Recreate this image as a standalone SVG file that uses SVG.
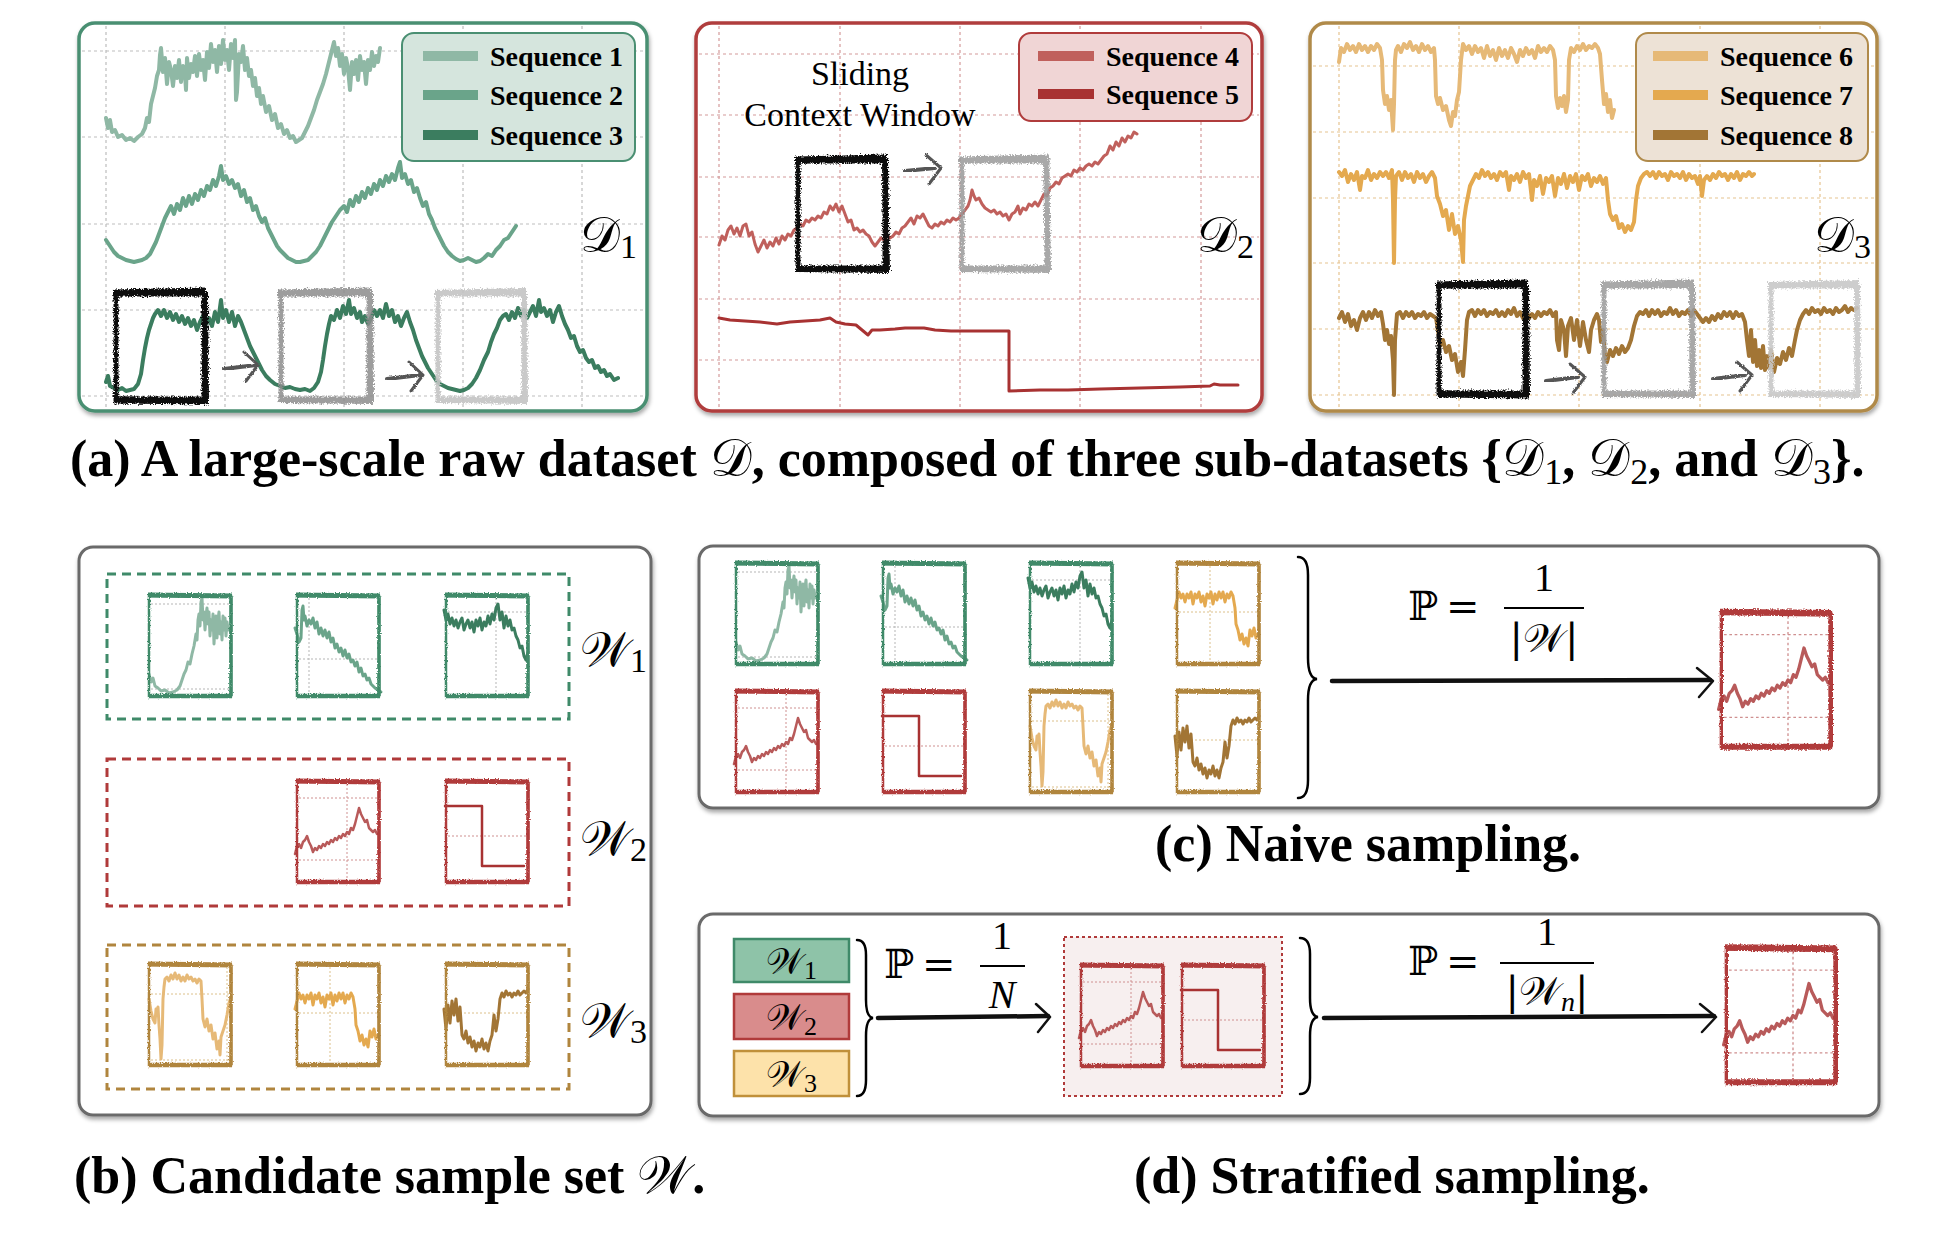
<svg xmlns="http://www.w3.org/2000/svg" width="1940" height="1244" viewBox="0 0 1940 1244">
<defs>
<style>
.cap{font-family:"Liberation Serif","Times New Roman",serif;font-weight:bold;font-size:52px;fill:#000}
.leg{font-family:"Liberation Serif","Times New Roman",serif;font-weight:bold;font-size:28px;fill:#000}
.m{font-family:"DejaVu Serif","DejaVu Sans","Noto Sans",serif;font-weight:normal;fill:#000}
.num{font-family:"Liberation Serif","Times New Roman",serif;font-weight:normal;fill:#000}
.ts{fill:none;stroke-linejoin:round;stroke-linecap:round}
.gd{fill:none;stroke:#bdbdbd;stroke-width:1.2;stroke-dasharray:3 3}
.gr{fill:none;stroke:#d49a9a;stroke-width:1.2;stroke-dasharray:3 3}
.go{fill:none;stroke:#e6c38f;stroke-width:1.2;stroke-dasharray:3 3}
.fgd{fill:none;stroke:#b5b5b5;stroke-width:1;stroke-dasharray:2 2}
.fgr{fill:none;stroke:#cf9090;stroke-width:1;stroke-dasharray:2 2}
.fgo{fill:none;stroke:#dcc08a;stroke-width:1;stroke-dasharray:2 2}
.fr{fill:none;filter:url(#rough)}
.win{fill:none;filter:url(#rough2)}
.panel{fill:#fff;stroke:#6a6a6a;stroke-width:3;filter:url(#shadow)}
.brace{fill:none;stroke:#000;stroke-width:2.5;stroke-linecap:round}
.arr{fill:none;stroke:#111;stroke-linecap:round;stroke-linejoin:round}
.sarr{fill:none;stroke:#555;stroke-linecap:round;stroke-linejoin:round;filter:url(#rough)}
</style>
<filter id="rough" x="-10%" y="-10%" width="120%" height="120%">
<feTurbulence type="fractalNoise" baseFrequency="0.9" numOctaves="1" seed="4" result="n"/>
<feDisplacementMap in="SourceGraphic" in2="n" scale="3" xChannelSelector="R" yChannelSelector="G"/>
</filter>
<filter id="rough2" x="-10%" y="-10%" width="120%" height="120%">
<feTurbulence type="fractalNoise" baseFrequency="0.7" numOctaves="2" seed="7" result="n"/>
<feDisplacementMap in="SourceGraphic" in2="n" scale="6" xChannelSelector="R" yChannelSelector="G"/>
</filter>
<filter id="shadow" x="-5%" y="-5%" width="110%" height="115%">
<feDropShadow dx="1" dy="3" stdDeviation="2" flood-color="#000" flood-opacity="0.35"/>
</filter>

<symbol id="fA" viewBox="0 0 90 112" overflow="visible">
<path class="fgd" d="M6,14 H84 M6,99 H84"/>
<polyline class="ts" stroke="#8fb8a5" stroke-width="3" points="4,84 6,92 8,88 10,96 13,98 16,101 20,100 24,103 28,102 32,100 35,96 37,90 39,84 41,80 43,72 45,74 47,64 49,56 51,44 52,50 53,30 54,24 55,36 56,12 57,8 58,30 59,22 60,40 61,26 62,18 63,34 64,22 65,46 66,30 67,40 68,24 69,54 70,36 71,26 72,48 73,30 74,22 75,44 76,32 77,50 78,26 79,40 80,28 81,46 82,32 83,40 84,36 86,44"/>
<g class="fr" stroke="#3f8a69"><rect x="4" y="6" width="82" height="100" stroke-width="2.5"/><path d="M3,5 L87,6" stroke-width="5"/><path d="M3,106 L87,106" stroke-width="4.5"/><path d="M86,6 L86,106" stroke-width="3.5"/></g>
</symbol>
<symbol id="fB" viewBox="0 0 90 112" overflow="visible">
<path class="fgd" d="M16,8 V104 M6,69 H84"/>
<polyline class="ts" stroke="#6aa48a" stroke-width="3" points="2,38 4,44 6,52 8,48 9,20 10,16 11,30 12,26 14,36 16,30 18,34 20,28 22,38 24,32 26,44 28,38 30,46 32,40 34,48 36,42 38,52 40,48 42,58 44,54 46,62 48,58 50,66 52,60 54,68 56,64 58,72 60,70 62,76 64,72 66,82 68,78 70,86 72,84 74,90 76,88 78,94 80,96 82,98 85,100 88,102"/>
<g class="fr" stroke="#3f8a69"><rect x="4" y="6" width="82" height="100" stroke-width="2.5"/><path d="M3,5 L87,6" stroke-width="5"/><path d="M3,106 L87,106" stroke-width="4.5"/><path d="M86,6 L86,106" stroke-width="3.5"/></g>
</symbol>
<symbol id="fC" viewBox="0 0 90 112" overflow="visible">
<path class="fgd" d="M54,8 V104 M6,22 H84"/>
<polyline class="ts" stroke="#3b7d5f" stroke-width="3" points="2,20 4,30 6,24 8,34 10,28 12,36 14,30 16,38 18,32 20,28 22,40 24,34 26,30 28,38 30,32 32,42 34,30 36,36 38,28 40,40 42,32 44,36 46,26 48,34 50,24 52,30 54,18 56,14 58,30 60,22 62,38 64,26 66,36 68,30 70,40 72,38 74,46 76,50 78,58 80,56 82,66 84,70 86,62"/>
<g class="fr" stroke="#3f8a69"><rect x="4" y="6" width="82" height="100" stroke-width="2.5"/><path d="M3,5 L87,6" stroke-width="5"/><path d="M3,106 L87,106" stroke-width="4.5"/><path d="M86,6 L86,106" stroke-width="3.5"/></g>
</symbol>
<symbol id="fD" viewBox="0 0 90 112" overflow="visible">
<path class="fgo" d="M6,35 H84 M6,101 H84 M82,8 V104"/>
<polyline class="ts" stroke="#e6b977" stroke-width="3" points="4,40 6,52 8,60 10,64 11,50 12,56 13,48 14,66 15,80 16,100 17,86 18,40 19,28 20,20 22,18 24,22 26,16 28,20 30,14 32,20 34,16 36,22 38,18 40,22 42,16 44,20 46,18 48,22 50,20 52,24 54,20 56,22 57,40 58,60 60,68 62,60 64,72 66,66 68,80 70,74 72,90 74,82 75,96 76,78 78,72 80,66 82,56 84,44 86,38"/>
<g class="fr" stroke="#b0853e"><rect x="4" y="6" width="82" height="100" stroke-width="2.5"/><path d="M3,5 L87,6" stroke-width="5"/><path d="M3,106 L87,106" stroke-width="4.5"/><path d="M86,6 L86,106" stroke-width="3.5"/></g>
</symbol>
<symbol id="fE" viewBox="0 0 90 112" overflow="visible">
<path class="fgo" d="M37,8 V104 M6,54 H84"/>
<polyline class="ts" stroke="#e4a94f" stroke-width="3" points="2,50 4,42 6,34 8,40 10,36 12,44 14,36 16,40 18,34 20,46 22,36 24,40 26,34 28,44 30,38 32,48 34,36 36,40 38,34 40,46 42,36 44,42 46,34 48,40 50,34 52,44 54,36 56,40 58,34 60,38 62,50 63,66 65,72 67,82 69,76 71,86 73,80 75,88 77,72 79,78 81,70 83,80 85,76"/>
<g class="fr" stroke="#b0853e"><rect x="4" y="6" width="82" height="100" stroke-width="2.5"/><path d="M3,5 L87,6" stroke-width="5"/><path d="M3,106 L87,106" stroke-width="4.5"/><path d="M86,6 L86,106" stroke-width="3.5"/></g>
</symbol>
<symbol id="fF" viewBox="0 0 90 112" overflow="visible">
<path class="fgo" d="M6,54 H84"/>
<polyline class="ts" stroke="#a27535" stroke-width="3" points="2,50 4,70 6,46 8,64 10,42 12,56 14,40 16,62 18,48 20,76 22,80 24,72 26,84 28,78 30,88 32,82 34,92 36,84 38,88 40,80 42,90 44,84 46,92 48,82 50,76 52,56 54,72 56,60 58,40 60,34 62,38 64,32 66,36 68,34 70,38 72,34 74,36 76,32 78,36 80,34 82,32 84,34 86,30"/>
<g class="fr" stroke="#b0853e"><rect x="4" y="6" width="82" height="100" stroke-width="2.5"/><path d="M3,5 L87,6" stroke-width="5"/><path d="M3,106 L87,106" stroke-width="4.5"/><path d="M86,6 L86,106" stroke-width="3.5"/></g>
</symbol>
<symbol id="fG" viewBox="0 0 90 112" overflow="visible">
<path class="fgr" d="M6,22 H84 M6,84 H84 M54,8 V104"/>
<polyline class="ts" stroke="#b85a5a" stroke-width="2.5" points="2,78 4,70 6,68 8,72 10,66 12,64 14,60 16,66 18,70 20,76 22,72 24,74 26,70 28,72 30,68 32,70 34,66 36,68 38,64 40,66 42,62 44,64 46,60 48,62 50,58 52,60 54,56 56,58 58,52 60,54 62,48 64,40 66,32 68,38 70,42 72,46 74,44 76,52 78,54 80,56 82,54 84,58"/>
<g class="fr" stroke="#b03a3a"><rect x="4" y="6" width="82" height="100" stroke-width="2.5"/><path d="M3,5 L87,6" stroke-width="5"/><path d="M3,106 L87,106" stroke-width="4.5"/><path d="M86,6 L86,106" stroke-width="3.5"/></g>
</symbol>
<symbol id="fH" viewBox="0 0 90 112" overflow="visible">
<path class="fgr" d="M6,60 H84"/>
<polyline class="ts" stroke="#a83232" stroke-width="2.5" points="3,30 40,30 40,90 82,90"/>
<g class="fr" stroke="#b03a3a"><rect x="4" y="6" width="82" height="100" stroke-width="2.5"/><path d="M3,5 L87,6" stroke-width="5"/><path d="M3,106 L87,106" stroke-width="4.5"/><path d="M86,6 L86,106" stroke-width="3.5"/></g>
</symbol>
</defs>

<rect width="1940" height="1244" fill="#fff"/>

<!-- Panel (a) D1 -->
<g id="D1">
<rect x="79" y="23" width="568" height="388" rx="16" fill="#fff" stroke="#4a8f72" stroke-width="3.5" filter="url(#shadow)"/>
<path class="gd" d="M106,26 V408 M225,26 V408 M344,26 V408 M463,26 V408 M582,26 V408 M82,51 H644 M82,137 H644 M82,224 H644 M82,310 H644 M82,396 H644"/>
<polyline class="ts" stroke="#8fb8a5" stroke-width="4" points="106,118 108,128 110,120 112,132 115,130 118,137 122,135 126,140 130,138 134,141 138,137 142,134 145,128 147,118 149,122 151,104 153,96 155,88 157,76 159,70 160,55 161,48 163,72 165,58 167,84 169,62 171,70 173,86 175,66 177,78 179,60 181,82 183,66 185,74 186,90 187,58 189,78 191,64 193,72 195,56 197,76 199,54 201,70 203,60 205,80 207,52 209,68 211,44 213,62 215,50 217,72 219,46 221,64 223,40 225,60 227,50 229,70 231,44 233,58 235,40 236,100 237,92 239,54 241,62 243,46 245,70 247,58 249,76 251,70 253,86 255,78 257,96 259,88 261,104 263,96 266,112 269,106 272,120 275,114 278,128 281,124 284,134 287,130 290,138 293,136 296,142 299,140 302,138 305,132 308,126 311,118 314,110 317,100 320,92 323,84 326,74 329,62 332,50 334,42 336,56 338,48 340,66 342,54 344,74 346,58 348,68 350,90 352,62 354,74 356,60 358,80 360,56 362,70 364,62 366,84 368,60 370,70 372,52 374,66 376,56 378,62 380,48"/>
<polyline class="ts" stroke="#6aa48a" stroke-width="4" points="106,240 110,246 114,252 118,256 122,258 126,260 130,261 134,262 138,261 142,260 146,258 150,254 153,248 156,242 159,234 162,226 165,218 168,212 171,206 174,214 177,204 180,210 183,198 186,206 189,196 192,204 195,194 198,200 201,190 204,196 207,186 210,190 213,180 216,186 219,176 221,166 223,180 226,176 229,184 232,180 235,188 238,184 241,196 244,190 247,202 250,198 253,210 256,206 259,216 262,222 265,218 268,228 271,234 274,240 277,246 280,250 284,254 288,258 292,260 296,262 300,262 304,261 308,260 312,256 316,252 320,246 324,238 328,230 332,222 336,216 340,210 344,206 347,212 350,200 353,206 356,196 359,202 362,192 365,198 368,188 371,194 374,184 377,190 380,180 383,186 386,176 389,182 392,174 395,180 398,168 400,162 402,178 405,174 408,184 411,180 414,192 417,188 420,198 423,206 426,202 429,214 432,220 435,228 438,234 441,240 444,246 448,252 452,256 456,259 460,261 464,260 468,258 472,260 476,262 480,261 484,258 488,254 492,256 496,250 500,246 504,240 508,238 512,232 516,226"/>
<polyline class="ts" stroke="#3b7d5f" stroke-width="4" points="106,382 108,376 110,386 114,388 118,390 122,388 126,391 130,390 134,389 138,384 141,374 143,360 145,348 147,338 149,330 151,324 153,318 155,314 158,310 161,316 164,310 167,318 170,312 173,320 176,314 179,322 182,316 185,324 188,318 191,326 194,320 197,330 200,322 203,316 206,324 209,318 212,326 215,312 218,322 221,300 223,318 226,310 229,322 232,312 235,326 238,316 241,322 244,330 247,338 250,346 254,354 258,362 262,370 266,376 270,380 275,384 280,386 285,388 290,387 295,389 300,390 305,389 310,391 314,388 318,382 321,372 323,360 325,346 327,334 329,324 331,316 334,320 337,310 340,318 343,306 346,314 349,300 351,314 354,308 357,318 360,312 362,322 365,316 368,324 371,318 374,310 377,316 380,310 383,318 386,304 389,316 392,310 395,322 398,316 401,326 404,318 407,312 410,322 413,330 416,340 419,348 422,356 425,362 428,368 432,374 436,380 440,384 444,386 448,388 452,389 456,390 460,391 464,390 468,388 472,384 476,378 480,370 484,360 488,352 491,342 494,334 497,328 500,320 503,316 506,314 509,320 512,312 515,318 518,308 521,316 524,310 527,318 530,312 533,306 536,316 539,300 541,312 544,308 547,316 550,310 553,322 556,312 559,306 562,316 565,324 568,330 571,338 574,336 577,346 580,352 583,350 586,358 589,362 592,360 595,368 598,366 601,372 604,370 607,376 610,374 614,380 618,378"/>
<g class="win" stroke="#111"><rect x="116" y="294" width="88" height="105" stroke-width="5"/><path d="M113,293 L206,291" stroke-width="7"/><path d="M114,400 L208,401" stroke-width="7"/><path d="M205,292 L206,402" stroke-width="6"/></g>
<g class="win" stroke="#8c8c8c" opacity="0.85"><rect x="281" y="294" width="88" height="105" stroke-width="5"/><path d="M278,293 L371,291" stroke-width="7"/><path d="M279,400 L373,401" stroke-width="6"/><path d="M370,292 L371,402" stroke-width="6"/></g>
<g class="win" stroke="#c4c4c4" opacity="0.9"><rect x="438" y="294" width="86" height="105" stroke-width="5"/><path d="M435,293 L526,291" stroke-width="6"/><path d="M436,400 L527,401" stroke-width="6"/><path d="M524,292 L525,402" stroke-width="6"/></g>
</g>
<g id="D1-arrows">
<path class="sarr" d="M224,369 L256,365" stroke-width="4"/><path class="sarr" d="M244,352 L258,365 L246,381" stroke-width="3"/>
<path class="sarr" d="M387,379 L420,375" stroke-width="4"/><path class="sarr" d="M409,362 L423,375 L411,391" stroke-width="3"/>
</g>
<g id="D1-legend">
<rect x="402" y="33" width="233" height="128" rx="12" fill="#d5e5dd" stroke="#4a8f72" stroke-width="2"/>
<path d="M423,56 H478" stroke="#8fb8a5" stroke-width="10"/>
<path d="M423,95 H478" stroke="#6aa48a" stroke-width="10"/>
<path d="M423,135 H478" stroke="#3b7d5f" stroke-width="10"/>
<text class="leg" x="490" y="66">Sequence 1</text>
<text class="leg" x="490" y="105">Sequence 2</text>
<text class="leg" x="490" y="145">Sequence 3</text>
<text class="m" x="580" y="252" font-size="50">𝒟<tspan class="num" font-size="34" dy="6">1</tspan></text>
</g>

<!-- Panel (a) D2 -->
<g id="D2">
<rect x="696" y="23" width="566" height="388" rx="16" fill="#fff" stroke="#b03c3c" stroke-width="3.5" filter="url(#shadow)"/>
<path class="gr" d="M719,26 V408 M840,26 V408 M960,26 V408 M1080,26 V408 M1201,26 V408 M699,54 H1259 M699,115 H1259 M699,177 H1259 M699,237 H1259 M699,299 H1259 M699,360 H1259"/>
<polyline class="ts" stroke="#c0605c" stroke-width="3" points="719,245 722,236 725,240 728,230 731,226 734,234 737,228 740,236 743,226 746,224 749,236 752,232 755,244 758,252 761,246 764,240 767,248 770,242 773,246 776,238 779,244 782,236 785,240 788,234 791,236 794,230 797,228 800,224 803,226 806,220 809,222 812,218 815,220 818,216 821,218 824,212 827,214 830,206 833,210 836,204 839,212 842,206 845,214 848,222 851,220 854,230 857,228 860,232 863,230 866,234 869,236 872,242 875,246 878,242 881,238 884,240 887,236 890,238 893,236 896,232 899,234 902,228 905,226 908,222 911,218 914,224 917,216 920,218 923,214 926,220 929,226 932,228 935,224 938,226 941,222 944,224 947,220 950,222 953,218 956,220 959,218 962,214 965,210 968,206 970,200 972,190 974,196 976,200 979,198 982,204 985,208 988,210 991,212 994,210 997,214 1000,212 1003,216 1006,214 1009,220 1012,214 1015,212 1018,206 1020,214 1023,208 1026,210 1029,204 1032,206 1035,202 1038,206 1041,200 1044,194 1047,196 1050,188 1053,186 1056,182 1059,184 1062,178 1065,176 1068,174 1071,176 1074,170 1077,172 1080,168 1083,170 1086,166 1089,164 1092,166 1095,162 1098,164 1101,160 1104,156 1107,154 1110,146 1113,150 1116,142 1119,146 1122,138 1125,142 1128,136 1131,138 1134,132 1137,134"/>
<polyline class="ts" stroke="#a83232" stroke-width="3" points="719,318 730,320 745,321 760,322 777,324 790,322 805,321 820,320 830,318 836,322 845,324 856,325 862,330 868,335 872,330 880,330 895,329 905,328 924,328 935,330 951,331 980,331 1009,331 1009,391 1040,390 1068,390 1100,389 1140,388 1180,387 1210,386 1214,384 1220,385 1238,385"/>
<g class="win" stroke="#111"><rect x="798" y="161" width="87" height="107" stroke-width="5"/><path d="M795,160 L887,158" stroke-width="7"/><path d="M796,269 L889,270" stroke-width="6"/><path d="M885,160 L887,271" stroke-width="6"/></g>
<g class="win" stroke="#9a9a9a" opacity="0.85"><rect x="962" y="161" width="85" height="107" stroke-width="5"/><path d="M959,160 L1049,158" stroke-width="7"/><path d="M960,269 L1050,270" stroke-width="6"/><path d="M1046,160 L1048,271" stroke-width="6"/></g>
</g>
<g id="D2-arrow">
<path class="sarr" d="M905,171 L935,168" stroke-width="4"/><path class="sarr" d="M926,155 L941,168 L929,184" stroke-width="3"/>
</g>
<g id="D2-legend">
<rect x="1019" y="33" width="233" height="88" rx="12" fill="#f0d5d5" stroke="#b03c3c" stroke-width="2"/>
<path d="M1038,56 H1094" stroke="#c0605c" stroke-width="10"/>
<path d="M1038,94 H1094" stroke="#a83232" stroke-width="10"/>
<text class="leg" x="1106" y="66">Sequence 4</text>
<text class="leg" x="1106" y="104">Sequence 5</text>
<text x="860" y="85" text-anchor="middle" font-family="Liberation Serif, serif" font-size="34">Sliding</text>
<text x="860" y="126" text-anchor="middle" font-family="Liberation Serif, serif" font-size="34">Context Window</text>
<text class="m" x="1197" y="252" font-size="50">𝒟<tspan class="num" font-size="34" dy="6">2</tspan></text>
</g>

<!-- Panel (a) D3 -->
<g id="D3">
<rect x="1310" y="23" width="567" height="388" rx="16" fill="#fff" stroke="#b08a4a" stroke-width="3.5" filter="url(#shadow)"/>
<path class="go" d="M1339,26 V408 M1459,26 V408 M1579,26 V408 M1700,26 V408 M1820,26 V408 M1313,66 H1874 M1313,132 H1874 M1313,198 H1874 M1313,263 H1874 M1313,329 H1874 M1313,395 H1874"/>
<polyline class="ts" stroke="#e6b977" stroke-width="4" points="1339,62 1341,48 1344,52 1347,44 1350,50 1353,46 1356,52 1359,44 1362,50 1365,46 1368,52 1371,46 1374,50 1377,44 1380,48 1382,60 1383,90 1385,104 1387,96 1389,110 1391,100 1393,130 1394,104 1395,60 1396,50 1398,46 1401,52 1404,44 1407,48 1410,42 1413,50 1416,46 1419,52 1422,44 1425,50 1428,46 1431,52 1434,48 1435,60 1436,96 1438,104 1440,98 1443,110 1446,106 1449,120 1451,126 1453,112 1455,116 1457,100 1459,92 1461,60 1463,44 1466,50 1469,46 1472,54 1475,46 1478,52 1481,48 1484,58 1487,46 1490,56 1493,50 1496,60 1499,48 1502,56 1505,50 1508,58 1511,48 1514,54 1517,62 1520,50 1523,56 1526,48 1529,54 1532,50 1535,58 1538,46 1541,52 1544,48 1547,52 1550,46 1553,50 1555,60 1556,96 1558,108 1560,98 1562,106 1564,96 1566,112 1568,100 1569,60 1571,48 1574,52 1577,46 1580,50 1583,44 1586,50 1589,46 1592,48 1595,44 1598,48 1600,54 1602,80 1604,104 1606,94 1608,112 1610,100 1612,118 1614,110"/>
<polyline class="ts" stroke="#e4a94f" stroke-width="4" points="1339,172 1342,176 1345,170 1348,182 1351,174 1354,180 1357,172 1360,190 1362,176 1365,178 1368,170 1371,180 1374,174 1377,178 1380,172 1383,176 1386,172 1389,178 1392,170 1393,200 1394,263 1395,200 1396,176 1399,172 1402,180 1405,172 1408,178 1411,174 1414,182 1417,172 1420,178 1423,174 1426,182 1429,176 1432,172 1435,178 1437,196 1440,204 1443,216 1446,210 1449,230 1452,214 1455,234 1458,226 1461,240 1463,262 1464,220 1466,206 1468,196 1470,186 1473,180 1476,174 1479,178 1482,170 1485,176 1488,172 1491,178 1494,174 1497,180 1500,172 1503,176 1506,172 1509,190 1511,176 1514,180 1517,174 1520,182 1523,172 1526,178 1529,174 1532,200 1534,180 1537,186 1540,176 1543,194 1546,178 1549,182 1552,176 1555,196 1558,178 1561,184 1564,174 1567,188 1570,176 1573,182 1576,174 1579,190 1582,176 1585,180 1588,174 1591,186 1594,178 1597,182 1600,176 1603,184 1606,178 1608,200 1610,214 1613,220 1616,216 1619,228 1622,224 1625,232 1628,226 1631,230 1634,222 1636,200 1638,186 1641,178 1644,174 1647,172 1650,176 1653,172 1656,178 1659,172 1662,176 1665,174 1668,180 1671,172 1674,176 1677,174 1680,178 1683,172 1686,180 1689,174 1692,178 1695,176 1698,184 1700,176 1702,196 1704,180 1707,176 1710,180 1713,174 1716,178 1719,172 1722,176 1725,174 1728,180 1731,174 1734,178 1737,172 1740,180 1743,174 1746,176 1749,172 1752,176 1754,174"/>
<polyline class="ts" stroke="#a27535" stroke-width="4" points="1339,318 1342,312 1345,322 1348,314 1351,326 1354,320 1357,330 1360,318 1363,312 1366,320 1369,312 1372,318 1375,310 1378,316 1381,312 1383,324 1385,340 1387,330 1389,344 1391,336 1393,360 1394,395 1395,340 1397,314 1400,312 1403,318 1406,312 1409,316 1412,312 1415,318 1418,314 1421,316 1424,312 1427,318 1430,314 1433,316 1436,318 1438,330 1440,346 1443,340 1446,352 1449,346 1452,360 1455,354 1458,372 1461,362 1463,376 1465,350 1467,320 1469,312 1472,310 1475,316 1478,310 1481,314 1484,310 1487,316 1490,312 1493,314 1496,310 1499,316 1502,312 1505,316 1508,310 1511,314 1514,308 1517,316 1520,312 1523,318 1526,312 1529,318 1532,314 1535,318 1538,312 1541,316 1544,312 1547,314 1550,310 1553,316 1556,312 1557,340 1559,350 1561,320 1564,330 1566,356 1568,326 1571,318 1574,340 1577,320 1580,346 1583,322 1586,340 1589,352 1591,330 1594,320 1597,314 1599,320 1601,342 1603,330 1605,356 1607,362 1610,350 1613,356 1616,348 1619,354 1622,346 1625,352 1628,348 1631,340 1634,326 1637,316 1640,312 1643,314 1646,310 1649,316 1652,310 1655,314 1658,310 1661,316 1664,312 1667,314 1670,308 1673,314 1676,310 1679,316 1682,312 1685,314 1688,310 1691,316 1694,310 1697,314 1700,318 1703,322 1706,318 1709,322 1712,316 1715,320 1718,314 1721,318 1724,312 1727,316 1730,312 1733,318 1736,312 1739,316 1742,314 1745,322 1747,340 1749,356 1751,330 1753,362 1755,340 1757,366 1759,350 1761,368 1763,346 1765,370 1767,356 1769,368 1771,350 1774,372 1777,358 1780,364 1783,352 1786,360 1789,348 1792,356 1795,340 1797,330 1800,320 1803,314 1806,310 1809,314 1812,308 1815,312 1818,310 1821,314 1824,308 1827,312 1830,310 1833,314 1836,308 1839,312 1842,310 1845,306 1848,312 1851,308 1854,310 1857,308"/>
<g class="win" stroke="#111"><rect x="1439" y="286" width="86" height="107" stroke-width="5"/><path d="M1436,285 L1527,283" stroke-width="7"/><path d="M1437,394 L1529,395" stroke-width="7"/><path d="M1526,285 L1527,396" stroke-width="6"/></g>
<g class="win" stroke="#9a9a9a" opacity="0.85"><rect x="1604" y="286" width="88" height="107" stroke-width="5"/><path d="M1601,285 L1694,283" stroke-width="7"/><path d="M1602,394 L1695,395" stroke-width="6"/><path d="M1692,285 L1693,396" stroke-width="6"/></g>
<g class="win" stroke="#c8c8c8" opacity="0.9"><rect x="1771" y="286" width="86" height="107" stroke-width="5"/><path d="M1768,285 L1859,283" stroke-width="6"/><path d="M1769,394 L1860,395" stroke-width="6"/><path d="M1857,285 L1858,396" stroke-width="6"/></g>
</g>
<g id="D3-arrows">
<path class="sarr" d="M1546,381 L1578,377" stroke-width="4"/><path class="sarr" d="M1570,364 L1585,377 L1573,393" stroke-width="3"/>
<path class="sarr" d="M1713,379 L1745,375" stroke-width="4"/><path class="sarr" d="M1737,362 L1752,375 L1740,391" stroke-width="3"/>
</g>
<g id="D3-legend">
<rect x="1636" y="33" width="232" height="128" rx="12" fill="#ede2d6" stroke="#b08a4a" stroke-width="2"/>
<path d="M1653,56 H1708" stroke="#e6b977" stroke-width="10"/>
<path d="M1653,95 H1708" stroke="#e4a94f" stroke-width="10"/>
<path d="M1653,135 H1708" stroke="#a27535" stroke-width="10"/>
<text class="leg" x="1720" y="66">Sequence 6</text>
<text class="leg" x="1720" y="105">Sequence 7</text>
<text class="leg" x="1720" y="145">Sequence 8</text>
<text class="m" x="1814" y="252" font-size="50">𝒟<tspan class="num" font-size="34" dy="6">3</tspan></text>
</g>

<text class="cap" x="70" y="476">(a) A large-scale raw dataset <tspan class="m" font-weight="normal">𝒟</tspan>, composed of three sub-datasets {<tspan class="m" font-weight="normal">𝒟</tspan><tspan font-weight="normal" font-size="36" dy="8">1</tspan><tspan dy="-8">, </tspan><tspan class="m" font-weight="normal">𝒟</tspan><tspan font-weight="normal" font-size="36" dy="8">2</tspan><tspan dy="-8">, and </tspan><tspan class="m" font-weight="normal">𝒟</tspan><tspan font-weight="normal" font-size="36" dy="8">3</tspan><tspan dy="-8">}.</tspan></text>

<!-- Panel (b) -->
<g id="panel-b">
<rect class="panel" x="79" y="547" width="572" height="568" rx="14"/>
<rect x="107" y="574" width="462" height="145" fill="none" stroke="#3f8a69" stroke-width="3" stroke-dasharray="9 6"/>
<rect x="107" y="759" width="462" height="147" fill="none" stroke="#b03a3a" stroke-width="3" stroke-dasharray="9 6"/>
<rect x="107" y="945" width="462" height="144" fill="none" stroke="#b0853e" stroke-width="3" stroke-dasharray="9 6"/>
<g id="b-w1-1"><use href="#fA" x="145" y="590" width="90" height="112"/></g>
<g id="b-w1-2"><use href="#fB" x="293" y="590" width="90" height="112"/></g>
<g id="b-w1-3"><use href="#fC" x="442" y="590" width="90" height="112"/></g>
<g id="b-w2-1"><use href="#fG" x="293" y="776" width="90" height="112"/></g>
<g id="b-w2-2"><use href="#fH" x="442" y="776" width="90" height="112"/></g>
<g id="b-w3-1"><use href="#fD" x="145" y="959" width="90" height="112"/></g>
<g id="b-w3-2"><use href="#fE" x="293" y="959" width="90" height="112"/></g>
<g id="b-w3-3"><use href="#fF" x="442" y="959" width="90" height="112"/></g>
<text class="m" x="580" y="666" font-size="48">𝒲<tspan class="num" font-size="34" dy="6">1</tspan></text>
<text class="m" x="580" y="855" font-size="48">𝒲<tspan class="num" font-size="34" dy="6">2</tspan></text>
<text class="m" x="580" y="1037" font-size="48">𝒲<tspan class="num" font-size="34" dy="6">3</tspan></text>
</g>
<text class="cap" x="74" y="1193">(b) Candidate sample set <tspan class="m" font-weight="normal">𝒲</tspan>.</text>

<!-- Panel (c) -->
<g id="panel-c">
<rect class="panel" x="699" y="546" width="1180" height="262" rx="14"/>
<g id="c-1"><use href="#fA" x="732" y="557" width="90" height="114"/></g>
<g id="c-2"><use href="#fB" x="879" y="557" width="90" height="114"/></g>
<g id="c-3"><use href="#fC" x="1026" y="557" width="90" height="114"/></g>
<g id="c-4"><use href="#fE" x="1173" y="557" width="90" height="114"/></g>
<g id="c-5"><use href="#fG" x="732" y="685" width="90" height="114"/></g>
<g id="c-6"><use href="#fH" x="879" y="685" width="90" height="114"/></g>
<g id="c-7"><use href="#fD" x="1026" y="685" width="90" height="114"/></g>
<g id="c-8"><use href="#fF" x="1173" y="685" width="90" height="114"/></g>
<g id="c-out"><use href="#fG" x="1716" y="603" width="120" height="154" preserveAspectRatio="none"/></g>
<text class="m" x="1408" y="620" font-size="40">ℙ</text>
<text class="m" x="1446" y="620" font-size="40">=</text>
<text class="num" x="1544" y="591" font-size="40" text-anchor="middle">1</text>
<path d="M1504,608 H1584" stroke="#000" stroke-width="2"/>
<text class="m" x="1544" y="652" font-size="40" text-anchor="middle">|𝒲|</text>
</g>
<g id="connectors-c">
<path class="brace" d="M1298,557 Q1308,557 1308,575 L1308,658 Q1308,678 1317,679 Q1308,680 1308,700 L1308,780 Q1308,798 1298,798"/>
<path class="arr" d="M1332,681 L1710,680" stroke-width="4.5"/>
<path class="arr" d="M1697,668 L1713,681 L1699,697" stroke-width="2.5"/>
</g>
<text class="cap" x="1155" y="861">(c) Naive sampling.</text>

<!-- Panel (d) -->
<g id="panel-d">
<rect class="panel" x="699" y="914" width="1180" height="202" rx="14"/>
<g id="d-w1"><rect x="734" y="939" width="115" height="43" fill="#8ec3a8" stroke="#3f8a69" stroke-width="2.5"/><text class="m" x="766" y="974" font-size="36">𝒲<tspan class="num" font-size="26" dy="5">1</tspan></text></g>
<g id="d-w2"><rect x="734" y="994" width="115" height="45" fill="#d98c8c" stroke="#b03a3a" stroke-width="2.5"/><text class="m" x="766" y="1030" font-size="36">𝒲<tspan class="num" font-size="26" dy="5">2</tspan></text></g>
<g id="d-w3"><rect x="734" y="1051" width="115" height="45" fill="#fde2aa" stroke="#c0903a" stroke-width="2.5"/><text class="m" x="766" y="1087" font-size="36">𝒲<tspan class="num" font-size="26" dy="5">3</tspan></text></g>
<text class="m" x="884" y="978" font-size="40">ℙ</text>
<text class="m" x="922" y="978" font-size="40">=</text>
<text class="num" x="1002" y="949" font-size="40" text-anchor="middle">1</text>
<path d="M980,966 H1025" stroke="#000" stroke-width="2"/>
<text class="num" x="1002" y="1008" font-size="40" font-style="italic" text-anchor="middle">N</text>
<g id="d-sample"><rect x="1064" y="937" width="218" height="159" fill="#f7efef" stroke="#b03a3a" stroke-width="2" stroke-dasharray="3 3"/>
<use href="#fG" x="1077" y="959" width="90" height="114"/>
<use href="#fH" x="1178" y="959" width="90" height="114"/></g>
<g id="d-out"><use href="#fG" x="1721" y="938" width="120" height="155" preserveAspectRatio="none"/></g>
<text class="m" x="1408" y="975" font-size="40">ℙ</text>
<text class="m" x="1446" y="975" font-size="40">=</text>
<text class="num" x="1547" y="945" font-size="40" text-anchor="middle">1</text>
<path d="M1500,963 H1594" stroke="#000" stroke-width="2"/>
<text class="m" x="1547" y="1005" font-size="40" text-anchor="middle">|𝒲<tspan class="num" font-style="italic" font-size="28" dy="6">n</tspan><tspan dy="-6">|</tspan></text>
</g>
<g id="connectors-d">
<path class="brace" d="M857,940 Q866,940 866,955 L866,1000 Q866,1017 873,1018 Q866,1019 866,1036 L866,1080 Q866,1096 857,1096"/>
<path class="arr" d="M878,1018 L1048,1016" stroke-width="4.5"/>
<path class="arr" d="M1036,1004 L1050,1017 L1038,1032" stroke-width="2.5"/>
<path class="brace" d="M1300,938 Q1310,938 1310,954 L1310,998 Q1310,1016 1318,1017 Q1310,1018 1310,1036 L1310,1078 Q1310,1094 1300,1094"/>
<path class="arr" d="M1324,1018 L1714,1016" stroke-width="4.5"/>
<path class="arr" d="M1700,1004 L1716,1017 L1702,1032" stroke-width="2.5"/>
</g>
<text class="cap" x="1134" y="1193">(d) Stratified sampling.</text>
</svg>
